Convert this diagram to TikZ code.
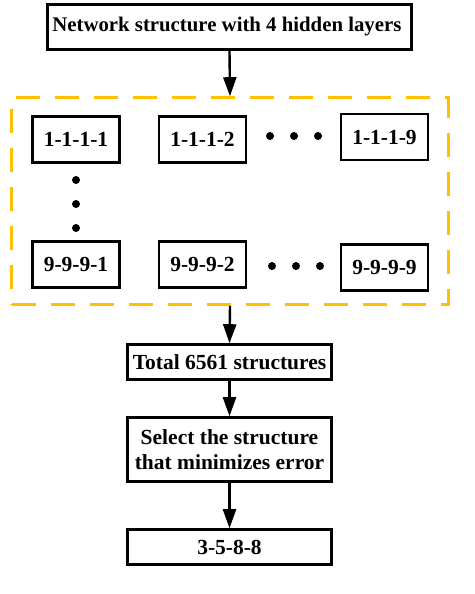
\documentclass[tikz,border=0pt]{standalone}
\usepackage{fontspec}
\setmainfont{Liberation Serif}
\usetikzlibrary{arrows.meta,positioning}
\definecolor{dashcolor}{RGB}{255,192,0}

\begin{document}
\begin{tikzpicture}[
			x=1pt,y=-1pt,
			stepbox/.style={
				draw=black,
				line width=2.6pt,
				fill=white,
				align=center,
				inner sep=0pt,
				font=\fontsize{21.5}{25}\selectfont\bfseries
			},
			codebox/.style={
				stepbox,
				minimum width=87pt,
				minimum height=46pt
			},
			flowbox/.style={
				stepbox,
				minimum width=204pt,
				minimum height=35pt
			},
			groupbox/.style={
				draw=dashcolor,
				line width=2.6pt,
				dash pattern=on 24pt off 15pt,
				minimum width=437pt,
				minimum height=207pt,
				inner sep=0pt
			},
			flowarrow/.style={
				-{Triangle[length=19pt,width=13pt]},
				draw=black,
				line width=2.4pt
			},
			dot/.style={
				fill=black
			}
			]
			
			\useasboundingbox (0,0) rectangle (474,594);
			
			% Top
			\node[stepbox,minimum width=364pt,minimum height=45pt,font=\fontsize{20.8}{25}\selectfont\bfseries] (hidden) at (229.5,27) {
				Network structure with 4 hidden layers
			};
			
			% Candidate structures
			\node[groupbox] (grid) at (230,201) {};
			
			\node[codebox] (first) at (76,139.5) {1-1-1-1};
			\node[codebox] (second) at (202.5,139.5) {1-1-1-2};
			\node[codebox] (ninth) at (384.5,137) {1-1-1-9};
			
			\node[codebox] (lastfirst) at (76,264.5) {9-9-9-1};
			\node[codebox] (lastsecond) at (202.5,264.5) {9-9-9-2};
			\node[codebox] (lastninth) at (384.5,267.5) {9-9-9-9};
			
			% Ellipsis dots
			\foreach \x in {270,294,318}
			\fill[dot] (\x,136) circle (4pt);
			\foreach \x in {272,296,320}
			\fill[dot] (\x,266) circle (4pt);
			\foreach \y in {180,204,228}
			\fill[dot] (76,\y) circle (4pt);
			
			% Bottom
			\node[flowbox] (total) at (229.5,362) {Total 6561 structures};
			
			\node[flowbox,minimum height=64pt] (select) at (229.5,449.5) {
				Select the structure\\
				that minimizes error
			};
			
			\node[flowbox] (best) at (229.5,547) {3-5-8-8};
			
			% Main sequence
			\draw[flowarrow]
			(hidden.south) --
			(grid.north);
			
			\draw[flowarrow]
			(grid.south) --
			(total.north);
			
			\draw[flowarrow]
			(total.south) --
			(select.north);
			
			\draw[flowarrow]
			(select.south) --
			(best.north);
			
		\end{tikzpicture}
\end{document}
